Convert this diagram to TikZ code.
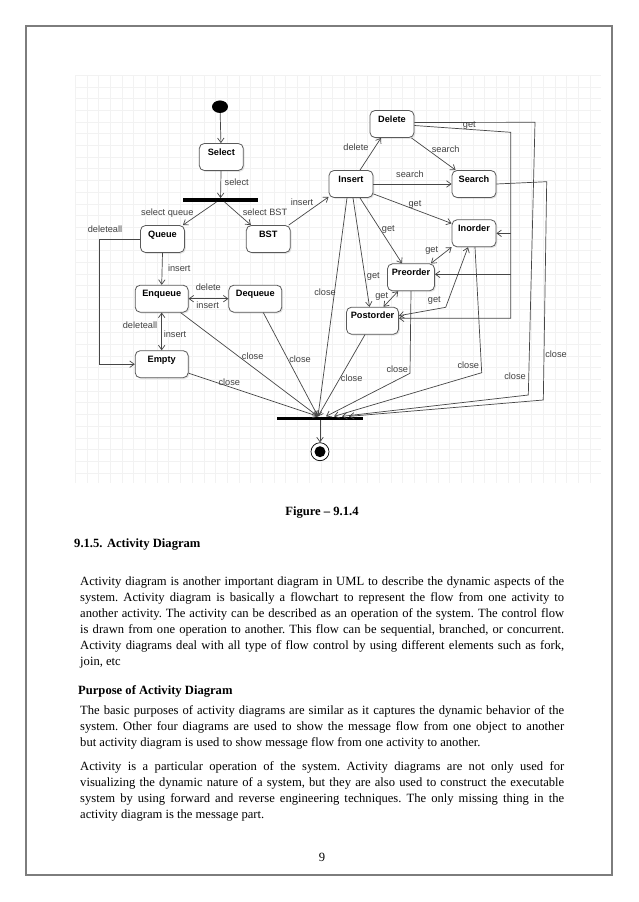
\documentclass[tikz,border=0pt]{standalone}
\usepackage{fontspec}
\setmainfont{Liberation Serif}
\setsansfont{Liberation Sans}
\usepackage{xcolor}
\usetikzlibrary{calc,arrows.meta,shapes.geometric,shadows}
\definecolor{gridGray}{RGB}{242,242,242}
\definecolor{boxLine}{RGB}{90,90,90}
\definecolor{flowGray}{RGB}{70,70,70}
\definecolor{labelGray}{RGB}{65,65,65}
\definecolor{frameGray}{RGB}{125,125,125}
\newcommand{\BodySize}{\fontsize{12.6}{16}\selectfont}
\newcommand{\DiagSize}{\fontsize{9.2}{10}\selectfont}
\frenchspacing
\tikzset{
  act/.style={draw=boxLine,fill=white,rounded corners=5pt,line width=0.8pt,minimum width=44pt,minimum height=27pt,inner sep=0pt,text height=7pt,text depth=11pt,font=\sffamily\bfseries\DiagSize,drop shadow={shadow xshift=1.3pt,shadow yshift=-1.3pt,opacity=0.2}},
  bar/.style={fill=black,inner sep=0pt,minimum height=3.5pt},
  flow/.style={draw=flowGray,line width=0.7pt,-{Straight Barb[length=4.5pt,width=6.5pt]}},
  twoway/.style={flow,{Straight Barb[length=4.5pt,width=6.5pt]}-{Straight Barb[length=4.5pt,width=6.5pt]}},
  lbl/.style={font=\sffamily\DiagSize,text=labelGray,inner sep=0.5pt},
  gridline/.style={draw=gridGray,line width=0.35pt},
  para/.style={font=\BodySize,text width=484pt,align=justify,inner sep=0pt,anchor=north west},
  headtext/.style={font=\BodySize\bfseries,inner sep=0pt,anchor=base west}
}

\begin{document}
\begin{tikzpicture}[x=1pt,y=-1pt]
\useasboundingbox (0,0) rectangle (638,902);
\fill[white] (0,0) rectangle (638,902);
\draw[draw=frameGray,line width=1.6pt] (26,26) rectangle (612,875);

\foreach \gx in {75,86.7,...,601} \draw[gridline] (\gx,75) -- (\gx,483);
\foreach \gy in {75,86.7,...,483} \draw[gridline] (75,\gy) -- (601,\gy);

\node[fill=black,ellipse,minimum width=16pt,minimum height=12.5pt,inner sep=0pt] (start) at (220,106.7) {};
\node[act] (select) at (221.3,157) {Select};
\node[bar,minimum width=75.6pt] (fork) at (220.5,200) {};
\node[act] (queue) at (162.5,239) {Queue};
\node[act] (bst) at (268.3,239) {BST};
\node[act] (insert) at (351,184) {Insert};
\node[act] (delete) at (392,124) {Delete};
\node[act] (search) at (474,184) {Search};
\node[act] (inorder) at (474,233.3) {Inorder};
\node[act,minimum width=47pt] (preorder) at (411,277.3) {Preorder};
\node[act,minimum width=52pt] (postorder) at (372.5,320.7) {Postorder};
\node[act,minimum width=53pt] (enqueue) at (161.7,298.7) {Enqueue};
\node[act,minimum width=53pt] (dequeue) at (255.3,298.7) {Dequeue};
\node[act,minimum width=53pt] (empty) at (161.7,364.2) {Empty};
\node[bar,minimum width=86.6pt] (join) at (320,418.3) {};
\node[circle,draw=black,line width=0.7pt,fill=white,minimum size=18pt,inner sep=0pt] (final) at (320,451.7) {};
\fill (final.center) circle (5.5pt);

\coordinate (jA) at ($(join.north)+(-2,0)$);
\coordinate (jB) at ($(join.north)+(6,0)$);
\coordinate (jC) at ($(join.north)+(14,0)$);
\coordinate (jD) at ($(join.north)+(22,0)$);
\coordinate (jE) at ($(join.north)+(29,0)$);
\coordinate (busTop) at (510.7,132.3);
\coordinate (busBot) at (510.7,318.3);
\coordinate (dA) at (535,122.3);
\coordinate (dB) at (528.3,395);
\coordinate (sA) at (546.7,181.7);
\coordinate (sB) at (543.3,400);
\coordinate (iA) at (481.7,372.7);
\coordinate (pA) at (410,373.3);
\coordinate (ipA) at (445.7,307.3);

\draw[flow] (start) -- (select);
\draw[flow] (select) -- (fork);
\draw[flow] ($(fork.south)+(-4,0)$) -- ($(queue.north east)+(-2,0)$);
\draw[flow] ($(fork.south)+(4,0)$) -- ($(bst.north west)+(5,0)$);
\draw[flow] ($(bst.north east)+(-2,0)$) -- ($(insert.south west)+(0,-1)$);
\draw[flow] (queue.south) -- (enqueue.north);
\draw[flow] (queue.west) -- ++(-41,0) |- (empty.west);
\draw[twoway] (enqueue.east) -- (dequeue.west);
\draw[twoway] (enqueue.south) -- (empty.north);
\draw[flow] ($(insert.north)+(9,0)$) -- ($(delete.south)+(-11,0)$);
\draw[flow] ($(delete.south east)+(-3,0)$) -- ($(search.north west)+(4,0)$);
\draw[flow] (insert.east) -- (search.west);
\draw[flow] ($(insert.south east)+(0,-4)$) -- ($(inorder.north west)+(0,4)$);
\draw[flow] ($(insert.south)+(9,0)$) -- ($(preorder.north)+(-9,0)$);
\draw[flow] ($(insert.south)+(2,0)$) -- ($(postorder.north)+(-3,0)$);
\draw[twoway] ($(preorder.north east)+(-4,0)$) -- (inorder.south west);
\draw[twoway] ($(postorder.north)+(11,0)$) -- ($(preorder.south west)+(11,0)$);
\draw[twoway] ($(inorder.south)+(-6,0)$) -- (ipA) -- ($(postorder.east)+(0,-5)$);
\draw[flow] ($(delete.east)+(0,1.5)$) -- (busTop) -- (busBot) -- (busBot -| postorder.east);
\draw[flow] (busTop |- inorder.east) -- (inorder.east);
\draw[flow] ($(busTop |- preorder.east)+(0,-3)$) -- ($(preorder.east)+(0,-3)$);

\draw[flow] ($(empty.east)+(0,9)$) -- (jA);
\draw[flow] ($(enqueue.south east)+(-8,0)$) -- (jA);
\draw[flow] ($(dequeue.south)+(8,0)$) -- (jA);
\draw[flow] ($(insert.south)+(-4,0)$) -- (jA);
\draw[flow] ($(postorder.south)+(-7.5,0)$) -- (jA);
\draw[flow] (preorder.south) -- (pA) -- (jB);
\draw[flow] ($(inorder.south)+(1,0)$) -- (iA) -- (jC);
\draw[flow] ($(delete.east)+(0,-1.5)$) -- (dA) -- (dB) -- (jD);
\draw[flow] (search.east) -- (sA) -- (sB) -- (jE);
\draw[flow] (join) -- (final);

\node[lbl] (lSelect) at (236.7,182.3) {select};
\node[lbl] (lSelQueue) at (167.3,212.7) {select queue};
\node[lbl] (lSelBst) at (265,212.7) {select BST};
\node[lbl] (lBstIns) at (302,202) {insert};
\node[lbl] (lQueueAll) at (105,229) {deleteall};
\node[lbl] (lQueueIns) at (179.3,268.7) {insert};
\node[lbl] (lEnqDel) at (208.3,287.7) {delete};
\node[lbl] (lEnqIns) at (207.7,305.7) {insert};
\node[lbl] (lEmptyAll) at (140,325.7) {deleteall};
\node[lbl] (lEmptyIns) at (175,334) {insert};
\node[lbl] (lInsDel) at (356,147.7) {delete};
\node[lbl] (lDelSearch) at (445.7,149.3) {search};
\node[lbl] (lInsSearch) at (410,174) {search};
\node[lbl] (lInsIn) at (415,204) {get};
\node[lbl] (lInsPre) at (388.3,229.3) {get};
\node[lbl] (lInsPost) at (373.3,276.7) {get};
\node[lbl] (lDelGet) at (469.3,125) {get};
\node[lbl] (lPreIn) at (431.7,250.7) {get};
\node[lbl] (lPrePost) at (381.7,296.7) {get};
\node[lbl] (lInPost) at (434.3,300) {get};
\node[lbl] (cEmpty) at (229.3,382.3) {close};
\node[lbl] (cEnq) at (252.7,356.7) {close};
\node[lbl] (cDeq) at (300,359) {close};
\node[lbl] (cIns) at (325,292.3) {close};
\node[lbl] (cPost) at (351.7,378.3) {close};
\node[lbl] (cPre) at (397.3,369.3) {close};
\node[lbl] (cIn) at (468.3,365) {close};
\node[lbl] (cDel) at (515,376.7) {close};
\node[lbl] (cSearch) at (556,354.3) {close};

\node[font=\BodySize\bfseries,inner sep=0pt,anchor=base] (figCap) at (322,515) {Figure – 9.1.4};
\node[headtext] (secHead) at (74,547) {9.1.5.\hspace{4.5pt}Activity Diagram};
\node[para] (paraOne) at (80,576.4) {Activity diagram is another important diagram in UML to describe the dynamic aspects of the\linebreak
system. Activity diagram is basically a flowchart to represent the flow from one activity to\linebreak
another activity. The activity can be described as an operation of the system. The control flow\linebreak
is drawn from one operation to another. This flow can be sequential, branched, or concurrent.\linebreak
Activity diagrams deal with all type of flow control by using different elements such as fork,\linebreak
join, etc};
\node[headtext] (purposeHead) at (78,694) {Purpose of Activity Diagram};
\node[para] (paraTwo) at (80,705.4) {The basic purposes of activity diagrams are similar as it captures the dynamic behavior of the\linebreak
system. Other four diagrams are used to show the message flow from one object to another\linebreak
but activity diagram is used to show message flow from one activity to another.};
\node[para] (paraThree) at (80,761.4) {Activity is a particular operation of the system. Activity diagrams are not only used for\linebreak
visualizing the dynamic nature of a system, but they are also used to construct the executable\linebreak
system by using forward and reverse engineering techniques. The only missing thing in the\linebreak
activity diagram is the message part.};
\node[font=\BodySize,inner sep=0pt,anchor=base] (pageNum) at (322,861) {9};
\end{tikzpicture}
\end{document}
